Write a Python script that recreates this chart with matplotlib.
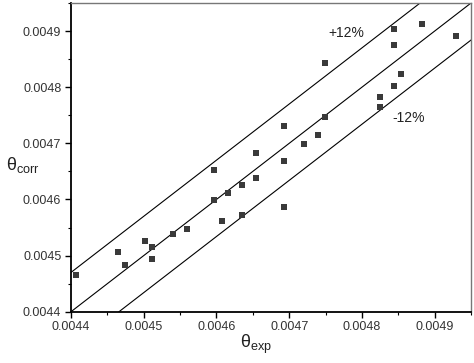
import numpy as np
import matplotlib
matplotlib.use('Agg')
import matplotlib.pyplot as plt
from matplotlib.ticker import MultipleLocator, FormatStrFormatter

plt.rcParams['font.family'] = ['Liberation Sans', 'DejaVu Sans']
plt.rcParams['mathtext.fontset'] = 'custom'
plt.rcParams['mathtext.rm'] = 'Liberation Sans'
plt.rcParams['mathtext.it'] = 'Liberation Sans'

theta_exp = [0.004407, 0.004465, 0.004474, 0.004502, 0.004511, 0.004511,
             0.004540, 0.004559, 0.004597, 0.004616, 0.004607, 0.004597,
             0.004635, 0.004635, 0.004654, 0.004654, 0.004693, 0.004693,
             0.004693, 0.004720, 0.004740, 0.004749, 0.004749, 0.004825,
             0.004825, 0.004844, 0.004844, 0.004844, 0.004854, 0.004882,
             0.004930]
theta_corr = [0.004465, 0.004506, 0.004484, 0.004526, 0.004515, 0.004494,
              0.004539, 0.004548, 0.004599, 0.004611, 0.004561, 0.004653,
              0.004625, 0.004573, 0.004683, 0.004639, 0.004730, 0.004668,
              0.004586, 0.004698, 0.004714, 0.004844, 0.004747, 0.004783,
              0.004765, 0.004903, 0.004875, 0.004803, 0.004823, 0.004912,
              0.004892]

# band lines: y = x + offset
band_offsets = [0.0, 0.000070, -0.000066]
lims = (0.0044, 0.00495)

fig = plt.figure(figsize=(4.74, 3.63), dpi=100)
ax = fig.add_axes([0.1498, 0.1413, 0.8439, 0.8504])

for off in band_offsets:
    ax.axline((lims[0], lims[0] + off), slope=1, color='black', lw=0.8, zorder=2)

ax.plot(theta_exp, theta_corr, 's', color='#3a3a3a', ms=5, mew=0, zorder=3)

ax.set_xlim(*lims)
ax.set_ylim(*lims)
ax.xaxis.set_major_locator(MultipleLocator(0.0001))
ax.yaxis.set_major_locator(MultipleLocator(0.0001))
ax.xaxis.set_minor_locator(MultipleLocator(0.00005))
ax.yaxis.set_minor_locator(MultipleLocator(0.00005))
ax.xaxis.set_major_formatter(FormatStrFormatter('%.4f'))
ax.yaxis.set_major_formatter(FormatStrFormatter('%.4f'))
ax.tick_params(which='major', length=4, width=1, direction='out',
               labelsize=9, labelcolor='#333333', pad=3)
ax.tick_params(which='minor', length=2.5, width=0.8, direction='out')

for s in ['left', 'bottom']:
    ax.spines[s].set_linewidth(1.3)
for s in ['top', 'right']:
    ax.spines[s].set_linewidth(1.0)
    ax.spines[s].set_color('#777777')

ax.text(0.004779, 0.004897, '+12%', fontsize=10, ha='center', va='center',
        color='#222222')
ax.text(0.004864, 0.004745, '-12%', fontsize=10, ha='center', va='center',
        color='#222222')

fig.text(0.048, 0.545, r'$\mathregular{\theta_{corr}}$', fontsize=13,
         ha='center', va='center', color='#222222')
fig.text(0.54, 0.05, r'$\mathregular{\theta_{exp}}$', fontsize=13,
         ha='center', va='center', color='#222222')

fig.savefig('out.png', dpi=100)
